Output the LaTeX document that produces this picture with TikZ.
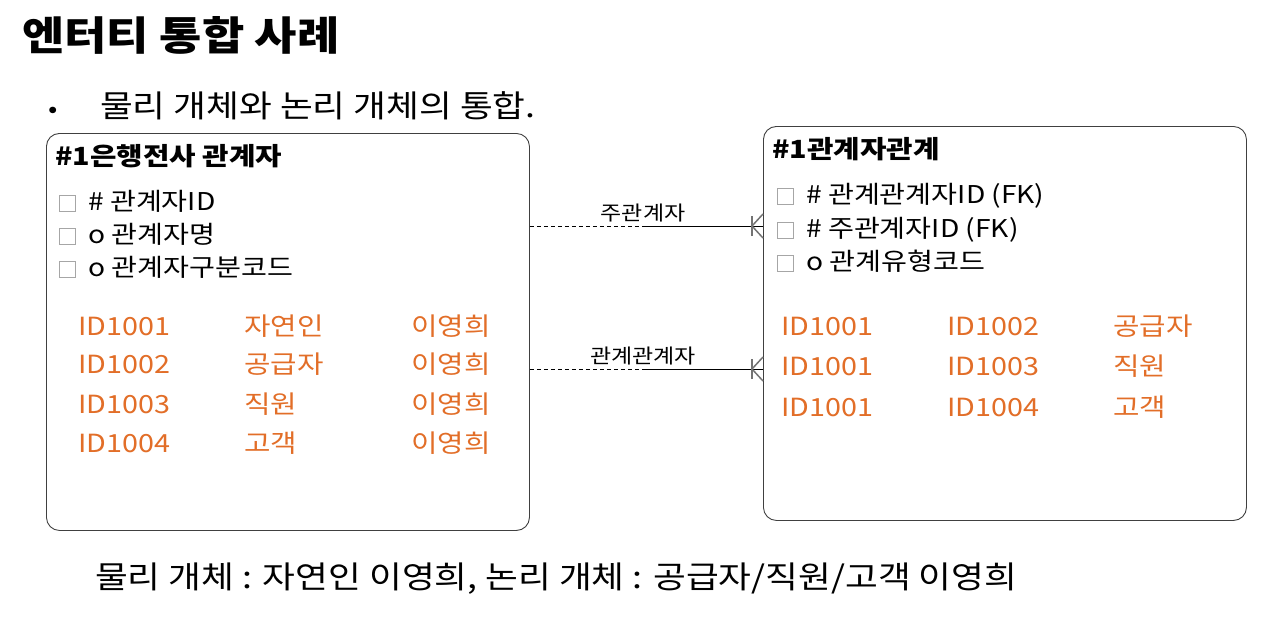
\documentclass[tikz,border=0pt]{standalone}
\usepackage{fontspec}
\setmainfont{Noto Sans CJK KR}[FakeStretch=1.15]
\begin{document}
\begin{tikzpicture}[x=1pt,y=-1pt,
  box/.style={draw=black!75,line width=0.9pt,rounded corners=13pt,anchor=north west,inner sep=0pt},
  txt/.style={anchor=base west,inner sep=0pt,font=\fontsize{24.5}{24.5}\selectfont},
  org/.style={anchor=base west,inner sep=0pt,text={rgb,255:red,226;green,110;blue,40},font=\fontsize{25}{25}\selectfont},
  chk/.style={draw=black!35,line width=0.7pt,minimum size=16pt,inner sep=0pt},
  rel/.style={line width=1pt}]
\useasboundingbox (0,0) rectangle (1280,622);
\node[anchor=base west,inner sep=0pt,font=\fontsize{40}{40}\selectfont\bfseries] (title) at (22,50) {엔터티 통합 사례};
\node[anchor=base west,inner sep=0pt,font=\fontsize{24}{24}\selectfont] (bul) at (48,117) {•};
\node[anchor=base west,inner sep=0pt,font=\fontsize{31}{31}\selectfont] (sub) at (100,117) {물리 개체와 논리 개체의 통합.};
% box 1
\node[box,minimum width=483pt,minimum height=397pt] (b1) at (46,133) {};
\node[txt,font=\fontsize{25}{25}\selectfont\bfseries] (t1) at (55,165) {\#1은행전사 관계자};
\node[chk] (c11) at (67,203) {}; \node[txt] (a11) at (88,210) {\# 관계자ID};
\node[chk] (c12) at (67,236) {}; \node[txt] (a12) at (88,243) {o 관계자명};
\node[chk] (c13) at (67,269) {}; \node[txt] (a13) at (88,276) {o 관계자구분코드};
\foreach \y/\a/\b/\c [count=\i] in {335/ID1001/자연인/이영희,373/ID1002/공급자/이영희,413/ID1003/직원/이영희,452/ID1004/고객/이영희}{
  \node[org] (p\i a) at (78,\y) {\a};
  \node[org] (p\i b) at (244,\y) {\b};
  \node[org] (p\i c) at (411,\y) {\c};}
% box 2
\node[box,minimum width=483pt,minimum height=394pt] (b2) at (763,126) {};
\node[txt,font=\fontsize{25}{25}\selectfont\bfseries] (t2) at (772,158) {\#1관계자관계};
\node[chk] (c21) at (785,196) {}; \node[txt] (a21) at (806,203) {\# 관계관계자ID (FK)};
\node[chk] (c22) at (785,230) {}; \node[txt] (a22) at (806,237) {\# 주관계자ID (FK)};
\node[chk] (c23) at (785,263) {}; \node[txt] (a23) at (806,270) {o 관계유형코드};
\foreach \y/\a/\b/\c [count=\i] in {335/ID1001/ID1002/공급자,375/ID1001/ID1003/직원,416/ID1001/ID1004/고객}{
  \node[org] (q\i a) at (781,\y) {\a};
  \node[org] (q\i b) at (947,\y) {\b};
  \node[org] (q\i c) at (1113,\y) {\c};}
% connectors
\foreach \y/\n/\l in {226/r1/주관계자,369/r2/관계관계자}{
  \coordinate (\n s) at (b1.east|-0,\y);
  \coordinate (\n m) at (643,\y);
  \coordinate (\n e) at (b2.west|-0,\y);
  \draw[rel,dashed,dash pattern=on 4pt off 3pt] (\n s) -- (\n m);
  \draw[rel] (\n m) -- (\n e);
  \draw[line width=1.5pt,black!55] ([xshift=-11pt,yshift=-10pt]\n e) -- ([xshift=-11pt,yshift=10pt]\n e);
  \draw[line width=1.5pt,black!55] ([yshift=-12pt]\n e) -- ([xshift=-11pt]\n e) -- ([yshift=12pt]\n e);
  \node[anchor=base,inner sep=0pt,font=\fontsize{20}{20}\selectfont] (\n l) at ([yshift=6pt]\n m) {\l};}
\node[anchor=base west,inner sep=0pt,font=\fontsize{31}{31}\selectfont] (cap) at (95,588) {물리 개체 : 자연인 이영희, 논리 개체 : 공급자/직원/고객 이영희};
\end{tikzpicture}
\end{document}
